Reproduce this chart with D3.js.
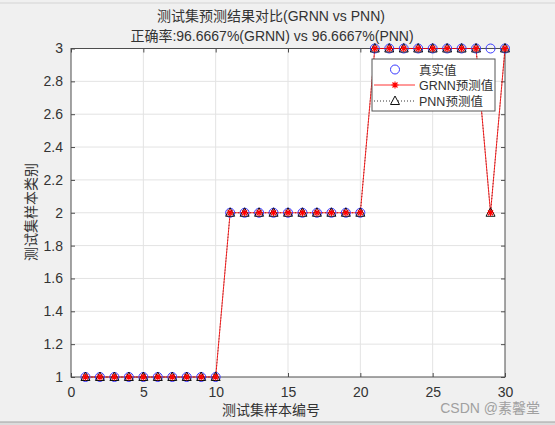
<!DOCTYPE html>
<html><head><meta charset="utf-8">
<script src="https://cdn.jsdelivr.net/npm/d3@7"></script>
<style>body{margin:0;background:#f0f0f0;} svg{display:block;}</style>
</head><body>
<script>
const sampleIndex = d3.range(1, 31);
const trueVals = [1,1,1,1,1,1,1,1,1,1, 2,2,2,2,2,2,2,2,2,2, 3,3,3,3,3,3,3,3,3,3];
const grnnVals = [1,1,1,1,1,1,1,1,1,1, 2,2,2,2,2,2,2,2,2,2, 3,3,3,3,3,3,3,3,2,3];
const pnnVals  = [1,1,1,1,1,1,1,1,1,1, 2,2,2,2,2,2,2,2,2,2, 3,3,3,3,3,3,3,3,2,3];
const xTicks = [0,5,10,15,20,25,30];
const yTicks = [1,1.2,1.4,1.6,1.8,2,2.2,2.4,2.6,2.8,3];
const titleLines = ["测试集预测结果对比(GRNN vs PNN)", "正确率:96.6667%(GRNN) vs 96.6667%(PNN)"];
const legendLabels = ["真实值", "GRNN预测值", "PNN预测值"];
const xLabel = "测试集样本编号", yLabel = "测试集样本类别";

const W = 555, H = 425;
const L = 71, R = 505, T = 48.5, B = 377;
const font = "'Liberation Sans', Arial, 'Noto Sans CJK SC', sans-serif";
const txt = "#333";

const svg = d3.select("body").append("svg").attr("width", W).attr("height", H)
  .style("font-family", font);
svg.append("rect").attr("width", W).attr("height", H).attr("fill", "#f0f0f0");
// window chrome
svg.append("line").attr("x1",0).attr("x2",W).attr("y1",3).attr("y2",3).attr("stroke","#d4d4d4");
svg.append("rect").attr("x",0).attr("y",422).attr("width",W).attr("height",3).attr("fill","#dcdcdc");
svg.append("line").attr("x1",0).attr("x2",W).attr("y1",422).attr("y2",422).attr("stroke","#a0a0a0");

const x = d3.scaleLinear().domain([0,30]).range([L,R]);
const y = d3.scaleLinear().domain([1,3]).range([B,T]);

svg.append("rect").attr("x",L).attr("y",T).attr("width",R-L).attr("height",B-T).attr("fill","#fff");

// grid
const g = svg.append("g");
g.selectAll(".gx").data(xTicks.slice(1,-1)).join("line")
  .attr("x1",d=>x(d)).attr("x2",d=>x(d)).attr("y1",T).attr("y2",B)
  .attr("stroke","#e3e3e3").attr("stroke-width",1);
g.selectAll(".gy").data(yTicks.slice(1,-1)).join("line")
  .attr("x1",L).attr("x2",R).attr("y1",d=>y(d)).attr("y2",d=>y(d))
  .attr("stroke","#e3e3e3").attr("stroke-width",1);

// axes
const xAxis = d3.axisBottom(x).tickValues(xTicks).tickSizeInner(-4).tickSizeOuter(0).tickPadding(10).tickFormat(d3.format("d"));
const yAxis = d3.axisLeft(y).tickValues(yTicks).tickSizeInner(-4).tickSizeOuter(0).tickPadding(8).tickFormat(d=>d3.format("")(+d.toFixed(1)));
const xa = svg.append("g").attr("transform",`translate(0,${B})`).call(xAxis);
const ya = svg.append("g").attr("transform",`translate(${L},0)`).call(yAxis);
const ya2 = svg.append("g").attr("transform",`translate(${R},0)`).call(d3.axisRight(y).tickValues(yTicks).tickSizeInner(-4).tickSizeOuter(0).tickFormat(""));
const xa2 = svg.append("g").attr("transform",`translate(0,${T})`).call(d3.axisTop(x).tickValues(xTicks).tickSizeInner(-4).tickSizeOuter(0).tickFormat(""));
[xa,ya,ya2,xa2].forEach(a=>{
  a.select(".domain").remove();
  a.selectAll("line").attr("stroke","#4d4d4d");
  a.selectAll("text").attr("fill",txt).style("font-size","14px").style("font-family",font);
});
svg.append("rect").attr("x",L).attr("y",T).attr("width",R-L).attr("height",B-T)
  .attr("fill","none").attr("stroke","#4d4d4d").attr("stroke-width",1);

// data
const pts = (vals)=>sampleIndex.map((s,i)=>[x(s), y(vals[i])]);
const line = d3.line();
const plot = svg.append("g");
// PNN dotted line
plot.append("path").attr("d", line(pts(pnnVals))).attr("fill","none")
  .attr("stroke","#000").attr("stroke-width",0.8).attr("stroke-dasharray","1,2");
// GRNN red line
plot.append("path").attr("d", line(pts(grnnVals))).attr("fill","none")
  .attr("stroke","#ff0000").attr("stroke-width",0.8);
// true circles
plot.selectAll(".c").data(pts(trueVals)).join("circle")
  .attr("cx",d=>d[0]).attr("cy",d=>d[1]).attr("r",4.5)
  .attr("fill","none").attr("stroke","#3a3aff").attr("stroke-width",1);
// PNN triangles
const tri = (cx,cy)=>`M${cx},${cy-5}L${cx+4.5},${cy+3.5}L${cx-4.5},${cy+3.5}Z`;
plot.selectAll(".t").data(pts(pnnVals)).join("path")
  .attr("d",d=>tri(d[0],d[1])).attr("fill","none").attr("stroke","#111").attr("stroke-width",1);
// GRNN stars
const star = (cx,cy)=>{const r=3.5, r2=2.5;
  return `M${cx-r},${cy}L${cx+r},${cy}M${cx},${cy-r}L${cx},${cy+r}M${cx-r2},${cy-r2}L${cx+r2},${cy+r2}M${cx-r2},${cy+r2}L${cx+r2},${cy-r2}`;};
plot.selectAll(".s").data(pts(grnnVals)).join("path")
  .attr("d",d=>star(d[0],d[1])).attr("fill","none").attr("stroke","#ff0000").attr("stroke-width",1.1);

// titles
svg.append("text").attr("x",271).attr("y",21).attr("text-anchor","middle")
  .attr("fill",txt).style("font-size","14px").text(titleLines[0]);
svg.append("text").attr("x",272).attr("y",41).attr("text-anchor","middle")
  .attr("fill",txt).style("font-size","14px").text(titleLines[1]);
svg.append("text").attr("x",271).attr("y",415).attr("text-anchor","middle")
  .attr("fill",txt).style("font-size","14px").text(xLabel);
svg.append("text").attr("transform","translate(36,212) rotate(-90)").attr("text-anchor","middle")
  .attr("fill",txt).style("font-size","14px").text(yLabel);

// legend
const lg = svg.append("g");
lg.append("rect").attr("x",372).attr("y",59).attr("width",123).attr("height",52)
  .attr("fill","#fff").attr("stroke","#555").attr("stroke-width",1);
const ly = [69.5, 85, 101];
const mx = 395;
lg.append("circle").attr("cx",mx).attr("cy",ly[0]).attr("r",4.5).attr("fill","none").attr("stroke","#3a3aff");
lg.append("line").attr("x1",374).attr("x2",415).attr("y1",ly[1]).attr("y2",ly[1]).attr("stroke","#ff0000").attr("stroke-width",0.8);
lg.append("path").attr("d",star(mx,ly[1])).attr("stroke","#ff0000").attr("stroke-width",1.1).attr("fill","none");
lg.append("line").attr("x1",374).attr("x2",415).attr("y1",ly[2]).attr("y2",ly[2]).attr("stroke","#000").attr("stroke-width",0.8).attr("stroke-dasharray","1,2");
lg.append("path").attr("d",tri(mx,ly[2])).attr("fill","#fff").attr("stroke","#111");
lg.selectAll(".lt").data(legendLabels).join("text")
  .attr("x",419).attr("y",(d,i)=>ly[i]+5)
  .attr("fill",txt).style("font-size","12.5px").text(d=>d);

// watermark
svg.append("text").attr("x",540).attr("y",413).attr("text-anchor","end")
  .attr("fill","#a0a0a0").style("font-size","14px").text("CSDN @素馨堂");
</script>
</body></html>
